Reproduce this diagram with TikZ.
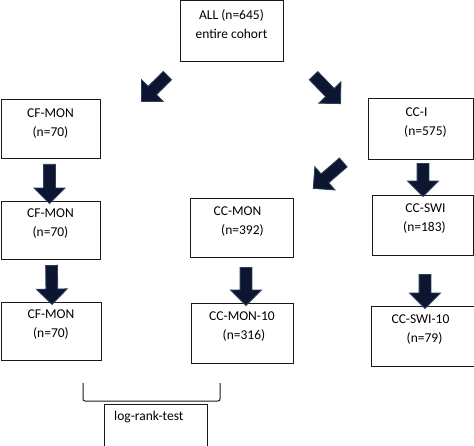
\documentclass[tikz,border=0pt]{standalone}
\usepackage{fontspec}
\setmainfont{Carlito}
\usetikzlibrary{calc,shapes.arrows}
\definecolor{arrowfill}{RGB}{12,22,48}
\definecolor{arrowedge}{RGB}{45,62,92}
\newcommand\fatarrow[2]{%
	\path let \p1=($(#2)-(#1)$), \n1={veclen(\x1,\y1)} in
	    (#1) -- node[blockarrow, sloped, allow upside down, minimum height=\n1] {} (#2);}
\newcommand\stagebox[5]{%
	\node[stage, minimum width=#3, minimum height=#4] (#1) at (#2) {};
	\node[stagetext] (#1-t) at ($(#1.center)+(0,-6)$) {#5};}
\begin{document}
\begin{tikzpicture}[x=1pt, y=-1pt,
	stage/.style={draw=black!90, line width=1pt, fill=white, inner sep=0pt},
	stagetext/.style={align=center, inner sep=0pt, font=\fontsize{13.5}{19}\selectfont},
	blockarrow/.style={single arrow, fill=arrowfill, draw=arrowedge, line width=0.8pt,
		inner sep=5.5pt, minimum width=0pt, single arrow head extend=9.5pt,
		single arrow head indent=0pt, shape border uses incircle=false}]
		\useasboundingbox[fill=white] (0,0) rectangle (474,445);

		% boxes
		\stagebox{all}{231.5,30.5}{103pt}{61pt}{ALL (n=645)\\entire cohort}
		\stagebox{cfa}{50.5,129.3}{99pt}{59pt}{CF-MON\\(n=70)}
		\stagebox{cfb}{50.5,230}{99pt}{58pt}{CF-MON\\(n=70)}
		\stagebox{cfc}{51,331}{100pt}{58pt}{CF-MON\\(n=70)}
		\stagebox{cci}{420.5,128.5}{105pt}{61pt}{CC-I\hspace*{8pt}\\\hspace*{10pt}(n=575)}
		\stagebox{ccmon}{241.5,227.5}{103pt}{59pt}{CC-MON\hspace*{8pt}\\\hspace*{2pt}(n=392)}
		\stagebox{ccswi}{422.5,225}{101pt}{60pt}{\hspace*{6pt}CC-SWI\\\hspace*{4pt}(n=183)}
		\stagebox{ccmon10}{242,333}{102pt}{60pt}{CC-MON-10\\\hspace*{4pt}(n=316)}
		\stagebox{ccswi10}{422.5,336}{103pt}{60pt}{CC-SWI-10\hspace*{4pt}\\\hspace*{4pt}(n=79)}

		% log-rank part
		\draw[black!90, line width=1pt, rounded corners=2pt] (83,383) |- (220,401) -- (220,383);
		\node[stage, anchor=north west, minimum width=103pt, minimum height=70pt] (lrt) at (104,404) {};
		\node[stagetext, anchor=west] (lrt-t) at ($(lrt.north west)+(10,13)$) {log-rank-test};

		% arrow ends
		\coordinate (d1s) at ($(all.south west)+(-10,12)$);
		\coordinate (d1e) at ($(cfa.north east)+(43,0)$);
		\coordinate (d2s) at ($(all.south east)+(28,12)$);
		\coordinate (d2e) at ($(cci.north west)+(-29,4)$);
		\coordinate (d3s) at ($(cci.south west)+(-22,1)$);
		\coordinate (d3e) at ($(ccmon.north east)+(22,-11)$);
		\coordinate (v1s) at ($(cfa.south)+(-1,2)$);
		\coordinate (v1e) at ($(cfb.north)+(-1,0)$);
		\coordinate (v2s) at ($(cfb.south)+(1,3)$);
		\coordinate (v2e) at ($(cfc.north)+(1,0)$);
		\coordinate (v3s) at ($(cci.south)+(2.5,1)$);
		\coordinate (v3e) at ($(ccswi.north)+(0.5,-1)$);
		\coordinate (v4s) at ($(ccmon.south)+(4.5,7)$);
		\coordinate (v4e) at ($(ccmon10.north)+(4,0)$);
		\coordinate (v5s) at ($(ccswi.south)+(2.5,16)$);
		\coordinate (v5e) at ($(ccswi10.north)+(2.5,0)$);

		% arrows
		\fatarrow{d1s}{d1e}
		\fatarrow{d2s}{d2e}
		\fatarrow{d3s}{d3e}
		\fatarrow{v1s}{v1e}
		\fatarrow{v2s}{v2e}
		\fatarrow{v3s}{v3e}
		\fatarrow{v4s}{v4e}
		\fatarrow{v5s}{v5e}
	\end{tikzpicture}
\end{document}
